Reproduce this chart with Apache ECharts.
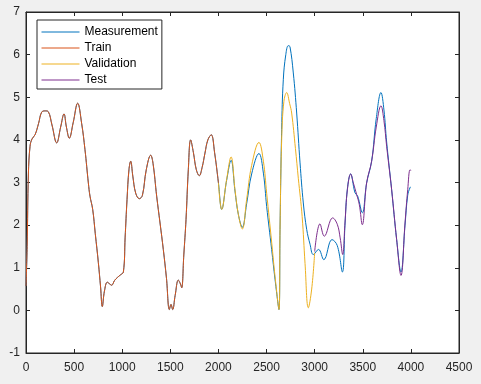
<!DOCTYPE html>
<html>
<head>
<meta charset="utf-8">
<script src="https://cdn.jsdelivr.net/npm/echarts@6/dist/echarts.min.js"></script>
<style>
html,body{margin:0;padding:0;background:#f0f0f0;}
#chart{width:481px;height:384px;}
</style>
</head>
<body>
<div id="chart"></div>
<script>
// ---- data ----
var seriesNames = ['Measurement', 'Train', 'Validation', 'Test'];
var xTicks = [0, 500, 1000, 1500, 2000, 2500, 3000, 3500, 4000, 4500];
var yTicks = [-1, 0, 1, 2, 3, 4, 5, 6, 7];

var trainX = [0, 12, 25, 42, 62, 94, 130, 163, 200, 232, 270, 319, 360, 395, 420, 450, 490, 537, 578, 613, 648, 665, 693, 720, 752, 775, 793, 815, 845, 870, 890, 920, 949, 980, 1012, 1030, 1050, 1070, 1088, 1110, 1140, 1178, 1210, 1250, 1296, 1320, 1358, 1393, 1427, 1460, 1490, 1507, 1524, 1550, 1583, 1605, 1618, 1640, 1663, 1687, 1711, 1740, 1770, 1801, 1830, 1860, 1890, 1925, 1960, 2000];
var trainY = [0.57, 1.5, 3.2, 3.85, 4.02, 4.12, 4.38, 4.65, 4.68, 4.66, 4.35, 3.93, 4.3, 4.61, 4.3, 4.04, 4.4, 4.86, 4.39, 3.77, 2.99, 2.68, 2.37, 1.8, 1.12, 0.55, 0.09, 0.45, 0.66, 0.62, 0.59, 0.7, 0.77, 0.83, 0.9, 1.7, 2.6, 3.3, 3.5, 3.15, 2.75, 2.62, 2.7, 3.3, 3.64, 3.45, 2.68, 2.05, 1.43, 0.75, 0.02, 0.14, 0.02, 0.35, 0.71, 0.62, 0.53, 1.3, 2.13, 3.3, 4.0, 3.7, 3.3, 3.16, 3.35, 3.69, 4.0, 4.12, 3.7, 2.99];

var valX = [2000, 2034, 2085, 2131, 2172, 2207, 2248, 2293, 2345, 2421, 2467, 2501, 2553, 2588, 2629, 2640, 2657, 2680, 2709, 2740, 2761, 2800, 2830, 2870, 2900, 2934, 2969, 3000];
var valY = [2.99, 2.37, 3.07, 3.6, 2.83, 2.25, 1.91, 2.6, 3.4, 3.94, 3.5, 2.75, 1.6, 0.8, 0.02, 1.9, 4.0, 4.9, 5.11, 4.85, 4.63, 3.8, 3.1, 2.2, 1.1, 0.06, 0.5, 1.35];

var testX = [3000, 3055, 3100, 3187, 3235, 3265, 3291, 3315, 3340, 3374, 3402, 3436, 3464, 3495, 3540, 3592, 3640, 3689, 3720, 3748, 3800, 3852, 3897, 3939, 3967, 3991, 4000];
var testY = [1.38, 2.03, 1.74, 2.17, 2.02, 1.7, 1.31, 2.05, 2.83, 3.2, 2.99, 2.72, 2.48, 2.01, 2.99, 3.5, 4.3, 4.8, 4.45, 3.85, 2.83, 1.66, 0.82, 2.05, 2.83, 3.3, 3.28];

// measurement after the train part (train part of measurement coincides with train curve)
var measLateX = [2034, 2085, 2131, 2172, 2207, 2248, 2293, 2345, 2421, 2467, 2501, 2553, 2588, 2629, 2640, 2657, 2674, 2700, 2726, 2743, 2778, 2813, 2848, 2882, 2917, 2952, 2986, 3040, 3095, 3180, 3235, 3288, 3315, 3340, 3374, 3419, 3447, 3495, 3540, 3592, 3640, 3689, 3720, 3748, 3800, 3852, 3897, 3939, 3967, 3991, 4000];
var measLateY = [2.37, 3.05, 3.52, 2.8, 2.25, 1.95, 2.5, 3.2, 3.68, 3.22, 2.44, 1.43, 0.73, 0.02, 1.9, 4.24, 5.41, 6.0, 6.21, 6.19, 5.57, 4.63, 3.46, 2.52, 1.9, 1.55, 1.31, 1.43, 1.19, 1.66, 1.52, 0.9, 2.0, 2.85, 3.2, 2.76, 2.68, 2.29, 2.99, 3.5, 4.5, 5.11, 4.7, 3.95, 2.83, 1.66, 0.9, 2.0, 2.7, 2.88, 2.9];

function pairs(xs, ys) { return xs.map(function (x, i) { return [x, ys[i]]; }); }
var measData = pairs(trainX, trainY).concat(pairs(measLateX, measLateY));

var colors = ['#0072BD', '#D95319', '#EDB120', '#7E2F8E'];
var axisColor = '#262626';
var fontFam = '"Liberation Sans", Arial, Helvetica, sans-serif';

function lineSeries(name, data, color) {
  return {
    name: name, type: 'line', data: data, symbol: 'none', smooth: 0.4,
    lineStyle: { color: color, width: 1 }, itemStyle: { color: color },
    xAxisIndex: 0, yAxisIndex: 0, animation: false, z: 2
  };
}

var xAxisBase = {
  type: 'value', min: xTicks[0], max: xTicks[xTicks.length - 1], interval: 500,
  axisLine: { show: true, onZero: false, lineStyle: { color: axisColor, width: 1 } },
  axisTick: { show: true, inside: true, length: 4, lineStyle: { color: axisColor } },
  splitLine: { show: false }
};
var yAxisBase = {
  type: 'value', min: yTicks[0], max: yTicks[yTicks.length - 1], interval: 1,
  axisLine: { show: true, onZero: false, lineStyle: { color: axisColor, width: 1 } },
  axisTick: { show: true, inside: true, length: 4, lineStyle: { color: axisColor } },
  splitLine: { show: false }
};

var chart = echarts.init(document.getElementById('chart'), null, { renderer: 'canvas' });
chart.setOption({
  backgroundColor: '#f0f0f0',
  animation: false,
  textStyle: { fontFamily: fontFam },
  grid: {
    left: 26, right: 22, top: 12, bottom: 31,
    show: true, backgroundColor: '#ffffff', borderColor: axisColor, borderWidth: 1
  },
  xAxis: [
    Object.assign({}, xAxisBase, {
      position: 'bottom',
      axisLabel: { color: axisColor, fontSize: 12, margin: 9, fontFamily: fontFam,
        formatter: function (v) { return String(v); } }
    }),
    Object.assign({}, xAxisBase, { position: 'top', axisLabel: { show: false } })
  ],
  yAxis: [
    Object.assign({}, yAxisBase, {
      position: 'left',
      axisLabel: { color: axisColor, fontSize: 12, margin: 6, fontFamily: fontFam,
        formatter: function (v) { return String(v); } }
    }),
    Object.assign({}, yAxisBase, { position: 'right', axisLabel: { show: false } })
  ],
  legend: {
    data: seriesNames,
    orient: 'vertical', left: 37, top: 20,
    itemWidth: 38, itemHeight: 16, itemGap: 0,
    itemStyle: { opacity: 0 },
    lineStyle: { width: 1 },
    backgroundColor: '#ffffff', borderColor: axisColor, borderWidth: 1, borderRadius: 0,
    padding: [4, 4, 1, 4],
    textStyle: { color: '#000', fontSize: 12, lineHeight: 16, fontFamily: fontFam }
  },
  series: [
    lineSeries(seriesNames[0], measData, colors[0]),
    lineSeries(seriesNames[1], pairs(trainX, trainY), colors[1]),
    lineSeries(seriesNames[2], pairs(valX, valY), colors[2]),
    lineSeries(seriesNames[3], pairs(testX, testY), colors[3])
  ]
});
</script>
</body>
</html>
